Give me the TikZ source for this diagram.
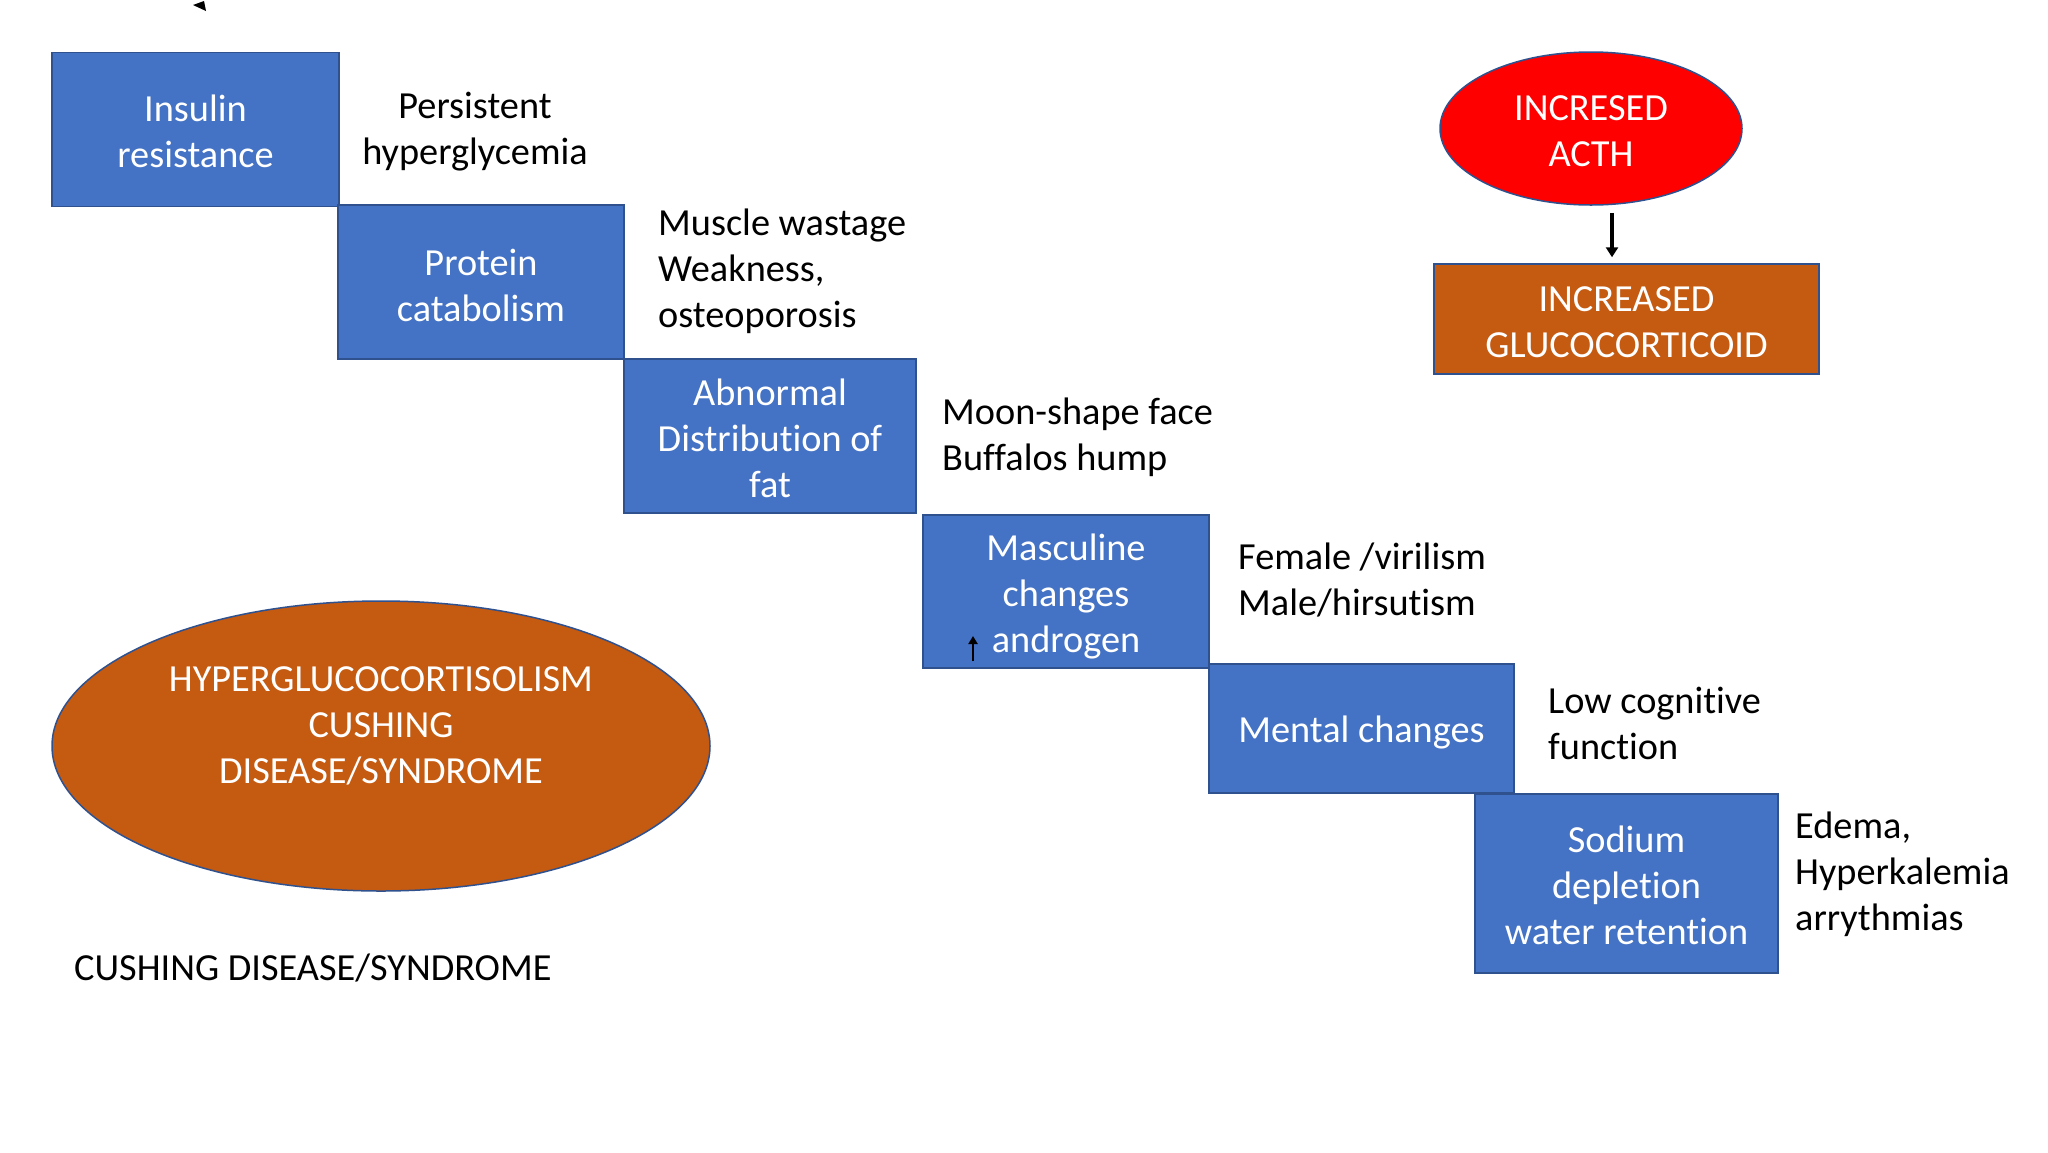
\documentclass[tikz,border=0pt]{standalone}
\usepackage{fontspec}
\setmainfont[Ligatures={NoCommon,NoContextual,NoRequired},Contextuals={NoAlternate}]{Carlito}
\usetikzlibrary{arrows.meta,shapes.geometric}
\definecolor{boxblue}{HTML}{4472C4}
\definecolor{edgeblue}{HTML}{2F528F}
\definecolor{rust}{HTML}{C55A11}
\definecolor{brightred}{HTML}{FF0000}
\tikzset{
  every node/.style={font=\fontsize{38.3pt}{46pt}\selectfont, inner sep=0pt},
  bluebox/.style={rectangle, fill=boxblue, draw=edgeblue, line width=1.5pt},
  rustbox/.style={rectangle, fill=rust, draw=edgeblue, line width=1.5pt},
  redell/.style={ellipse, fill=brightred, draw=edgeblue, line width=1.5pt},
  rustell/.style={ellipse, fill=rust, draw=edgeblue, line width=1.5pt},
  intext/.style={text=white, align=center},
  sidetext/.style={text=black, align=left, anchor=west},
  arr/.style={draw=black, line width=4pt, -{Triangle[length=10pt,width=12pt]}},
  smallarr/.style={draw=black, line width=2.2pt, -{Triangle[length=8pt,width=9pt]}}
}
\begin{document}
\begin{tikzpicture}[x=1pt,y=-1pt]
\useasboundingbox[fill=white] (0,0) rectangle (2048,1152);

% stray arrow tip at top
\fill[black] (193,5) -- (204,1) -- (206,11) -- cycle;

% staircase boxes
\node[bluebox, minimum width=287pt, minimum height=154pt] (insulin) at (195.5,129.5) {};
\node[intext] (insulint) at ([yshift=-1.5pt]insulin.center) {Insulin\\resistance};
\node[bluebox, minimum width=286pt, minimum height=154pt] (protein) at (481,282) {};
\node[intext] (proteint) at ([yshift=-3pt]protein.center) {Protein\\catabolism};
\node[bluebox, minimum width=292pt, minimum height=154pt] (fat) at (770,436) {};
\node[intext] (fatt) at ([yshift=-2pt]fat.center) {Abnormal\\Distribution of\\fat};
\node[bluebox, minimum width=286pt, minimum height=153pt] (masc) at (1066,591.5) {};
\node[intext] (masct) at ([yshift=-4.5pt]masc.center) {Masculine\\changes\\androgen};
\node[bluebox, minimum width=305pt, minimum height=129pt] (mental) at (1361.5,728.5) {};
\node[intext] (mentalt) at ([yshift=-4pt]mental.center) {Mental changes};
\node[bluebox, minimum width=303pt, minimum height=179pt] (sodium) at (1626.5,883.5) {};
\node[intext] (sodiumt) at ([yshift=-1.5pt]sodium.center) {Sodium\\depletion\\water retention};

% small up arrow in masculine box
\coordinate (ua1) at (973,661);
\coordinate (ua2) at (973,636);
\draw[smallarr] (ua1) -- (ua2);

% side texts
\node[text=black, align=center] (hyperg) at (475,131.5) {Persistent\\hyperglycemia};
\node[sidetext] (muscle) at (658,271) {Muscle wastage\\Weakness,\\osteoporosis};
\node[sidetext] (moon) at (942,437) {Moon-shape face\\Buffalos hump};
\node[sidetext] (female) at (1238,580) {Female /virilism\\Male/hirsutism};
\node[sidetext] (cogn) at (1548,723) {Low cognitive\\function};
\node[sidetext] (edema) at (1795,874) {Edema,\\Hyperkalemia\\arrythmias};

% ACTH and glucocorticoid
\node[redell, minimum width=302pt, minimum height=153pt] (acth) at (1591,128.5) {};
\node[intext] (actht) at (1591,131.5) {INCRESED\\ACTH};
\node[rustbox, minimum width=385pt, minimum height=110pt] (gluco) at (1626.5,319) {};
\node[intext] (glucot) at ([yshift=-3pt]gluco.center) {INCREASED\\GLUCOCORTICOID};
\draw[arr] ([shift={(21pt,-7pt)}]acth.south) -- ([shift={(-14.5pt,6pt)}]gluco.north);

% big ellipse
\node[rustell, minimum width=658pt, minimum height=290pt] (hyper) at (381,746) {};
\node[intext] (hypertext) at (381,725.5) {HYPERGLUCOCORTISOLISM\\CUSHING\\DISEASE/SYNDROME};

% caption
\node[sidetext] (caption) at (74,968) {CUSHING DISEASE/SYNDROME};
\end{tikzpicture}
\end{document}
